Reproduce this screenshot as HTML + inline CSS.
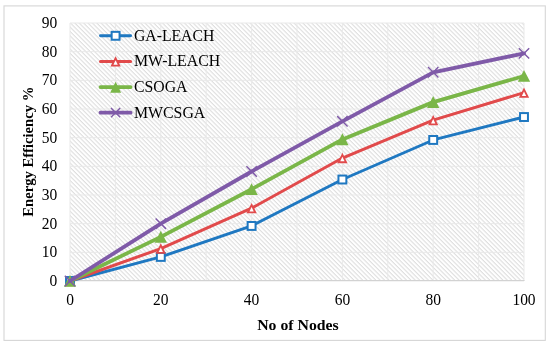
<!DOCTYPE html>
<html><head><meta charset="utf-8"><title>Energy Efficiency</title>
<style>
html,body{margin:0;padding:0;background:#fff;}
body{width:550px;height:346px;overflow:hidden;}
svg{display:block;}
text{font-family:'Liberation Serif', serif;fill:#000;}
</style></head><body>
<svg width="550" height="346" viewBox="0 0 550 346">
<defs>
<pattern id="hatch" width="3.1" height="3.1" patternUnits="userSpaceOnUse" patternTransform="rotate(45)">
<rect width="3.1" height="3.1" fill="#fff"/>
<rect x="0" y="0" width="3.1" height="1.1" fill="#dedede"/>
</pattern>
</defs>
<rect x="0" y="0" width="550" height="346" fill="#fff"/>
<rect x="4" y="5.9" width="541.3" height="334.5" fill="#fff" stroke="#d6d6d6" stroke-width="1.1"/>

<rect x="70.0" y="23.0" width="454.0" height="258.0" fill="url(#hatch)"/>
<path d="M70.0 281.00 H524.0 M70.0 252.33 H524.0 M70.0 223.67 H524.0 M70.0 195.00 H524.0 M70.0 166.33 H524.0 M70.0 137.67 H524.0 M70.0 109.00 H524.0 M70.0 80.33 H524.0 M70.0 51.67 H524.0 M70.0 23.00 H524.0 M70.00 23.0 V281.0 M115.40 23.0 V281.0 M160.80 23.0 V281.0 M206.20 23.0 V281.0 M251.60 23.0 V281.0 M297.00 23.0 V281.0 M342.40 23.0 V281.0 M387.80 23.0 V281.0 M433.20 23.0 V281.0 M478.60 23.0 V281.0 M524.00 23.0 V281.0" stroke="#e9e9e9" stroke-width="1" fill="none"/>
<path d="M69.5 280.5 H524.5" stroke="#d2d2d2" stroke-width="1.1" fill="none"/>
<polyline points="70.00,281.00 160.80,256.92 251.60,225.96 342.40,179.52 433.20,139.96 524.00,117.03" fill="none" stroke="#1f78c1" stroke-width="2.9" stroke-linejoin="round" stroke-linecap="round"/>
<rect x="66.05" y="277.05" width="7.90" height="7.90" fill="#fff" stroke="#1f78c1" stroke-width="2.0"/>
<rect x="156.85" y="252.97" width="7.90" height="7.90" fill="#fff" stroke="#1f78c1" stroke-width="2.0"/>
<rect x="247.65" y="222.01" width="7.90" height="7.90" fill="#fff" stroke="#1f78c1" stroke-width="2.0"/>
<rect x="338.45" y="175.57" width="7.90" height="7.90" fill="#fff" stroke="#1f78c1" stroke-width="2.0"/>
<rect x="429.25" y="136.01" width="7.90" height="7.90" fill="#fff" stroke="#1f78c1" stroke-width="2.0"/>
<rect x="520.05" y="113.08" width="7.90" height="7.90" fill="#fff" stroke="#1f78c1" stroke-width="2.0"/>
<polyline points="70.00,281.00 160.80,248.61 251.60,208.19 342.40,158.02 433.20,120.18 524.00,92.66" fill="none" stroke="#e14a4b" stroke-width="3.0" stroke-linejoin="round" stroke-linecap="round"/>
<path d="M70.00 275.75 L75.15 286.15 L64.85 286.15 Z" fill="#e14a4b"/><path d="M70.00 279.85 L72.15 284.35 L67.85 284.35 Z" fill="#fff"/>
<path d="M160.80 243.36 L165.95 253.76 L155.65 253.76 Z" fill="#e14a4b"/><path d="M160.80 247.46 L162.95 251.96 L158.65 251.96 Z" fill="#fff"/>
<path d="M251.60 202.94 L256.75 213.34 L246.45 213.34 Z" fill="#e14a4b"/><path d="M251.60 207.04 L253.75 211.54 L249.45 211.54 Z" fill="#fff"/>
<path d="M342.40 152.77 L347.55 163.17 L337.25 163.17 Z" fill="#e14a4b"/><path d="M342.40 156.87 L344.55 161.37 L340.25 161.37 Z" fill="#fff"/>
<path d="M433.20 114.93 L438.35 125.33 L428.05 125.33 Z" fill="#e14a4b"/><path d="M433.20 119.03 L435.35 123.53 L431.05 123.53 Z" fill="#fff"/>
<path d="M524.00 87.41 L529.15 97.81 L518.85 97.81 Z" fill="#e14a4b"/><path d="M524.00 91.51 L526.15 96.01 L521.85 96.01 Z" fill="#fff"/>
<polyline points="70.00,281.00 160.80,236.85 251.60,189.27 342.40,139.39 433.20,102.12 524.00,76.03" fill="none" stroke="#7ab648" stroke-width="3.8" stroke-linejoin="round" stroke-linecap="round"/>
<path d="M70.00 274.90 L76.15 286.80 L63.85 286.80 Z" fill="#7ab648"/>
<path d="M160.80 230.75 L166.95 242.65 L154.65 242.65 Z" fill="#7ab648"/>
<path d="M251.60 183.17 L257.75 195.07 L245.45 195.07 Z" fill="#7ab648"/>
<path d="M342.40 133.29 L348.55 145.19 L336.25 145.19 Z" fill="#7ab648"/>
<path d="M433.20 96.02 L439.35 107.92 L427.05 107.92 Z" fill="#7ab648"/>
<path d="M524.00 69.93 L530.15 81.83 L517.85 81.83 Z" fill="#7ab648"/>
<polyline points="70.00,281.00 160.80,223.67 251.60,171.49 342.40,121.33 433.20,72.31 524.00,53.39" fill="none" stroke="#7f5aa8" stroke-width="3.8" stroke-linejoin="round" stroke-linecap="round"/>
<path d="M64.80 275.80 L75.20 286.20 M64.80 286.20 L75.20 275.80" fill="none" stroke="#7f5aa8" stroke-width="1.45" stroke-linecap="butt"/>
<path d="M155.60 218.47 L166.00 228.87 M155.60 228.87 L166.00 218.47" fill="none" stroke="#7f5aa8" stroke-width="1.45" stroke-linecap="butt"/>
<path d="M246.40 166.29 L256.80 176.69 M246.40 176.69 L256.80 166.29" fill="none" stroke="#7f5aa8" stroke-width="1.45" stroke-linecap="butt"/>
<path d="M337.20 116.13 L347.60 126.53 M337.20 126.53 L347.60 116.13" fill="none" stroke="#7f5aa8" stroke-width="1.45" stroke-linecap="butt"/>
<path d="M428.00 67.11 L438.40 77.51 M428.00 77.51 L438.40 67.11" fill="none" stroke="#7f5aa8" stroke-width="1.45" stroke-linecap="butt"/>
<path d="M518.80 48.19 L529.20 58.59 M518.80 58.59 L529.20 48.19" fill="none" stroke="#7f5aa8" stroke-width="1.45" stroke-linecap="butt"/>
<text transform="translate(57.2 286.10) scale(1 1.05)" font-size="15.5" text-anchor="end">0</text>
<text transform="translate(57.2 257.43) scale(1 1.05)" font-size="15.5" text-anchor="end">10</text>
<text transform="translate(57.2 228.77) scale(1 1.05)" font-size="15.5" text-anchor="end">20</text>
<text transform="translate(57.2 200.10) scale(1 1.05)" font-size="15.5" text-anchor="end">30</text>
<text transform="translate(57.2 171.43) scale(1 1.05)" font-size="15.5" text-anchor="end">40</text>
<text transform="translate(57.2 142.77) scale(1 1.05)" font-size="15.5" text-anchor="end">50</text>
<text transform="translate(57.2 114.10) scale(1 1.05)" font-size="15.5" text-anchor="end">60</text>
<text transform="translate(57.2 85.43) scale(1 1.05)" font-size="15.5" text-anchor="end">70</text>
<text transform="translate(57.2 56.77) scale(1 1.05)" font-size="15.5" text-anchor="end">80</text>
<text transform="translate(57.2 28.10) scale(1 1.05)" font-size="15.5" text-anchor="end">90</text>
<text transform="translate(70.00 304.5) scale(1 1.05)" font-size="15.5" text-anchor="middle">0</text>
<text transform="translate(160.80 304.5) scale(1 1.05)" font-size="15.5" text-anchor="middle">20</text>
<text transform="translate(251.60 304.5) scale(1 1.05)" font-size="15.5" text-anchor="middle">40</text>
<text transform="translate(342.40 304.5) scale(1 1.05)" font-size="15.5" text-anchor="middle">60</text>
<text transform="translate(433.20 304.5) scale(1 1.05)" font-size="15.5" text-anchor="middle">80</text>
<text transform="translate(524.00 304.5) scale(1 1.05)" font-size="15.5" text-anchor="middle">100</text>
<text x="257.2" y="330.2" font-size="15" font-weight="bold" textLength="81.5" lengthAdjust="spacingAndGlyphs">No of Nodes</text>
<text transform="translate(33 216.7) rotate(-90)" font-size="15" font-weight="bold" textLength="130" lengthAdjust="spacingAndGlyphs">Energy Efficiency %</text>
<path d="M100.5 35.80 H130.6" stroke="#1f78c1" stroke-width="2.9" stroke-linecap="round"/>
<rect x="111.65" y="31.85" width="7.90" height="7.90" fill="#fff" stroke="#1f78c1" stroke-width="2.0"/>
<text x="134.0" y="40.70" font-size="16.6" textLength="80.3" lengthAdjust="spacingAndGlyphs">GA-LEACH</text>
<path d="M100.5 61.43 H130.6" stroke="#e14a4b" stroke-width="3.0" stroke-linecap="round"/>
<path d="M115.60 56.18 L120.75 66.58 L110.45 66.58 Z" fill="#e14a4b"/><path d="M115.60 60.28 L117.75 64.78 L113.45 64.78 Z" fill="#fff"/>
<text x="134.0" y="66.33" font-size="16.6" textLength="86.2" lengthAdjust="spacingAndGlyphs">MW-LEACH</text>
<path d="M100.5 87.06 H130.6" stroke="#7ab648" stroke-width="3.8" stroke-linecap="round"/>
<path d="M115.60 81.66 L121.10 92.66 L110.10 92.66 Z" fill="#7ab648"/>
<text x="134.0" y="92.41" font-size="16.6" textLength="53.5" lengthAdjust="spacingAndGlyphs">CSOGA</text>
<path d="M100.5 112.69 H130.6" stroke="#7f5aa8" stroke-width="3.8" stroke-linecap="round"/>
<path d="M111.00 108.09 L120.20 117.29 M111.00 117.29 L120.20 108.09" fill="none" stroke="#7f5aa8" stroke-width="1.45" stroke-linecap="butt"/>
<text x="134.0" y="118.09" font-size="16.6" textLength="71.3" lengthAdjust="spacingAndGlyphs">MWCSGA</text>
</svg></body></html>
